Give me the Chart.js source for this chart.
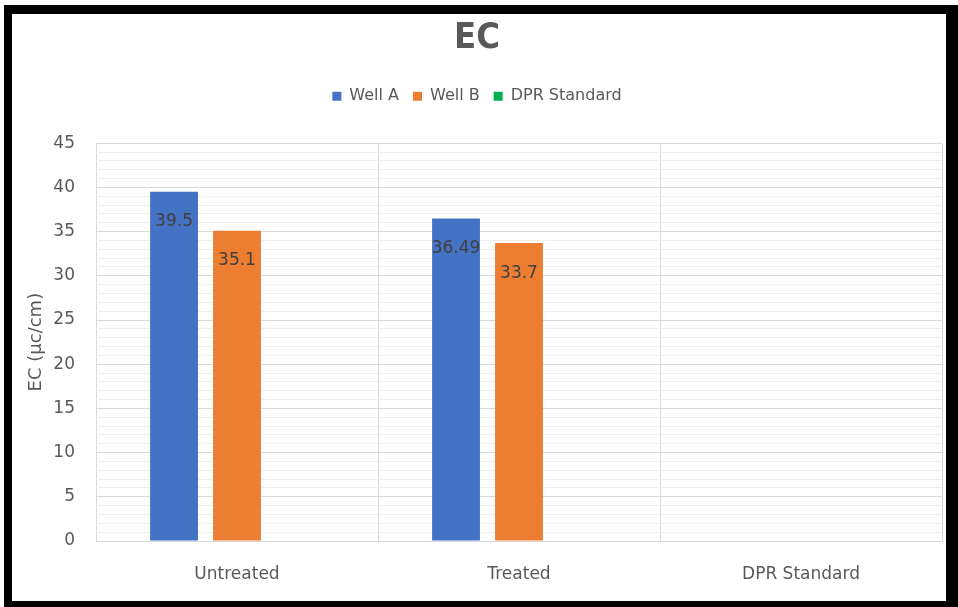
<!DOCTYPE html>
<html>
<head>
<meta charset="utf-8">
<script src="https://cdn.jsdelivr.net/npm/chart.js@4.4.1/dist/chart.umd.min.js"></script>
<style>
  html, body { margin: 0; padding: 0; background: #fff; }
  #frame {
    position: absolute; left: 4px; top: 5px;
    width: 934px; height: 587px;
    border-style: solid; border-color: #000;
    border-width: 9px 12px 6px 8px;
    background: #fff;
  }
  #wrap { position: relative; width: 934px; height: 587px; }
</style>
</head>
<body>
<div id="frame"><div id="wrap"><canvas id="chart"></canvas></div></div>
<script>
const categories = ['Untreated', 'Treated', 'DPR Standard'];
const wellA = [39.5, 36.49, null];
const wellB = [35.1, 33.7, null];
const dprStandard = [null, null, null];
const yMin = 0;
const yMax = 45;

const FONT = "'DejaVu Sans', sans-serif";
const TITLE_FONT = "'DejaVu Sans Condensed', 'Liberation Sans Narrow', 'Open Sans', sans-serif";
const TEXT = '#595959';

// draws the value inside the top of each bar, like Excel's "inside end" labels
const barLabels = {
  id: 'barLabels',
  afterDatasetsDraw(chart) {
    const ctx = chart.ctx;
    ctx.save();
    ctx.font = '17px ' + FONT;
    ctx.fillStyle = '#404040';
    ctx.textAlign = 'center';
    ctx.textBaseline = 'middle';
    chart.data.datasets.forEach((ds, i) => {
      chart.getDatasetMeta(i).data.forEach((bar, j) => {
        const v = ds.data[j];
        if (v == null) return;
        ctx.fillText(String(v), bar.x, bar.y + 30);
      });
    });
    ctx.restore();
  }
};

// extra room between legend and plot
const legendGap = {
  id: 'legendGap',
  beforeInit(chart) {
    const fit = chart.legend.fit;
    chart.legend.fit = function () {
      fit.call(this);
      this.height += 29;
    };
  }
};

new Chart(document.getElementById('chart'), {
  type: 'bar',
  data: {
    labels: categories,
    datasets: [
      { label: 'Well A', data: wellA, backgroundColor: '#4472c4' },
      { label: 'Well B', data: wellB, backgroundColor: '#ed7d31' },
      { label: 'DPR Standard', data: dprStandard, backgroundColor: '#00b050' }
    ]
  },
  options: {
    responsive: true,
    maintainAspectRatio: false,
    animation: false,
    layout: { padding: { left: 0, right: 4, top: 0, bottom: 0 } },
    datasets: { bar: { categoryPercentage: 0.67, barPercentage: 0.76 } },
    plugins: {
      title: {
        display: true, text: 'EC', color: TEXT,
        font: { family: TITLE_FONT, size: 36, weight: 'bold' },
        padding: { top: 3, bottom: 14 }
      },
      legend: {
        position: 'top',
        labels: {
          color: TEXT, boxWidth: 9, boxHeight: 9,
          font: { family: FONT, size: 16 }, padding: 14
        }
      },
      tooltip: { enabled: false }
    },
    scales: {
      x: {
        afterFit: s => { s.height = 60; },
        grid: { color: '#d9d9d9', drawTicks: false, offset: true },
        border: { color: '#d9d9d9' },
        ticks: { color: TEXT, font: { family: FONT, size: 17 }, padding: 23 }
      },
      y: {
        min: yMin, max: yMax,
        afterFit: s => { s.width = 84; },
        grid: {
          drawTicks: false,
          color: c => (c.tick && c.tick.value % 5 === 0) ? '#d9d9d9' : '#eeeeee'
        },
        border: { display: false },
        ticks: {
          stepSize: 1, autoSkip: false, color: TEXT, padding: 21,
          font: { family: FONT, size: 17 },
          callback: v => (v % 5 === 0 ? String(v) : '')
        },
        title: {
          display: true, text: 'EC (μc/cm)', color: TEXT,
          font: { family: FONT, size: 18 }, padding: { top: 14, bottom: 0 }
        }
      }
    }
  },
  plugins: [barLabels, legendGap]
});
</script>
</body>
</html>
